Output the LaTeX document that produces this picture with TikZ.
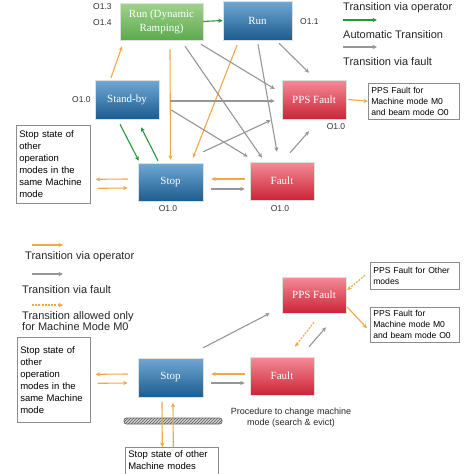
\documentclass[tikz,border=0pt]{standalone}
\usepackage{fontspec}
\setmainfont{Liberation Serif}
\setsansfont{Liberation Sans}
\usetikzlibrary{arrows.meta,calc,patterns}
\definecolor{bluetop}{RGB}{112,168,214}
\definecolor{bluebot}{RGB}{28,92,142}
\definecolor{greentop}{RGB}{160,210,140}
\definecolor{greenbot}{RGB}{92,170,78}
\definecolor{redtop}{RGB}{244,140,150}
\definecolor{redbot}{RGB}{204,36,56}
\definecolor{orangec}{RGB}{240,168,72}
\definecolor{grayc}{RGB}{150,150,150}
\definecolor{greenc}{RGB}{40,150,60}
\definecolor{notec}{RGB}{140,140,140}
\begin{document}
\begin{tikzpicture}[x=1pt,y=-1pt,
  box/.style={inner sep=0pt, text=white, font=\fontsize{11}{14}\selectfont, align=center, draw=white!75!gray, line width=0.5pt},
  bluebox/.style={box, top color=bluetop, bottom color=bluebot},
  greenbox/.style={box, top color=greentop, bottom color=greenbot},
  redbox/.style={box, top color=redtop, bottom color=redbot},
  note/.style={draw=notec, line width=0.6pt, align=left, anchor=north west, inner xsep=3pt, inner ysep=2pt, font=\sffamily\fontsize{9.5}{12}\selectfont},
  pnote/.style={draw=notec, line width=0.6pt, align=left, anchor=north west, inner xsep=3pt, inner ysep=2pt, font=\sffamily\fontsize{8.6}{11}\selectfont},
  olab/.style={font=\sffamily\fontsize{8.5}{10}\selectfont, text=black!80, inner sep=0pt},
  legtxt/.style={font=\sffamily\fontsize{11}{13}\selectfont, text=black!85, inner sep=0pt, anchor=west, align=left},
  arr/.style={line width=1.1pt, -{Stealth[length=4.5pt,width=4.2pt]}},
  oarr/.style={arr, draw=orangec, color=orangec},
  odarr/.style={arr, draw=orangec, color=orangec, dash pattern=on 2pt off 1.2pt},
  garr/.style={arr, draw=grayc, color=grayc},
  grarr/.style={arr, draw=greenc, color=greenc}
]
\useasboundingbox (0,0) rectangle (474,474);

% ---------------- TOP DIAGRAM ----------------
\node[greenbox, minimum width=83pt, minimum height=37pt] (rundr) at (161.5,21.5) {Run (Dynamic\\Ramping)};
\node[bluebox, minimum width=69pt, minimum height=39pt] (run) at (257.5,20.5) {Run};
\node[bluebox, minimum width=64pt, minimum height=39pt] (standby) at (127,99.5) {Stand-by};
\node[bluebox, minimum width=65pt, minimum height=38pt] (stopT) at (170.5,182) {Stop};
\node[redbox, minimum width=64pt, minimum height=39pt] (ppsT) at (314,99.5) {PPS Fault};
\node[redbox, minimum width=64pt, minimum height=38pt] (faultT) at (282,181) {Fault};

\node[note, minimum width=74pt, minimum height=78pt, text width=68pt] (noteT) at (16,125)
  {Stop state of\\other\\operation\\modes in the\\same Machine\\mode};
\node[pnote, minimum width=91pt, minimum height=36pt, text width=85pt] (ppsnoteT) at (368,83)
  {PPS Fault for\\Machine mode M0\\and beam mode O0};

\node[olab, anchor=west] (l13) at (93,7) {O1.3};
\node[olab, anchor=west] (l14) at (93,23) {O1.4};
\node[olab, anchor=west] (l11) at (300,22) {O1.1};
\node[olab, anchor=west] (l10a) at (72,100) {O1.0};
\node[olab] (l10b) at (168,209) {O1.0};
\node[olab] (l10c) at (336,127) {O1.0};
\node[olab] (l10d) at (280,209) {O1.0};

% legend top
\node[legtxt] (lt1) at (343,8) {Transition via operator};
\coordinate (lg1a) at (343,20); \coordinate (lg1b) at (377,20);
\draw[grarr] (lg1a) -- (lg1b);
\node[legtxt] (lt2) at (343,35) {Automatic Transition};
\coordinate (lg2a) at (343,47); \coordinate (lg2b) at (377,47);
\draw[garr] (lg2a) -- (lg2b);
\node[legtxt] (lt3) at (343,62) {Transition via fault};

% connectors top
\draw[grarr] (rundr.east) -- (run.west);
\draw[oarr] ($(standby.north)+(-16,-2)$) -- ($(rundr.south)+(-39.5,6)$);
\draw[oarr] ($(rundr.south)+(8.5,9)$) -- ($(stopT.north)+(0,-3)$);
\draw[oarr] ($(run.south)+(-20.5,5)$) -- ($(stopT.north)+(22.5,-5)$);
\draw[garr] ($(rundr.south)+(23.5,6)$) -- ($(faultT.north)+(-20,-4)$);
\draw[garr] ($(rundr.south)+(39.5,4)$) -- ($(ppsT.west)+(-7,-10.5)$);
\draw[garr] ($(run.south)+(0.5,4)$) -- ($(faultT.north)+(-5,-10)$);
\draw[garr] ($(run.south)+(21.5,3)$) -- ($(ppsT.north)+(-5,-7)$);
\draw[garr] ($(standby.east)+(11,1.5)$) -- ($(ppsT.west)+(-7,1.5)$);
\draw[garr] ($(standby.east)+(12,10.5)$) -- ($(faultT.north west)+(-2,-5)$);
\draw[garr] ($(stopT.north east)+(0,-11)$) -- ($(ppsT.south west)+(-11,1)$);
\draw[garr] ($(faultT.north)+(8,-9)$) -- ($(ppsT.south)+(-5,12)$);
\draw[grarr] ($(standby.south)+(-7,5)$) -- ($(stopT.north west)+(1,-2)$);
\draw[grarr] ($(stopT.north)+(-12.5,-2)$) -- ($(standby.south)+(14,8)$);
\draw[oarr] ($(stopT.west)+(-10,-3)$) -- ($(noteT.east)+(5,15)$);
\draw[oarr] ($(noteT.east)+(7,24)$) -- ($(stopT.west)+(-10,6)$);
\draw[oarr] ($(faultT.west)+(-5,-2)$) -- ($(stopT.east)+(8,-3)$);
\draw[garr] ($(stopT.east)+(8,7)$) -- ($(faultT.west)+(-5,8)$);
\draw[oarr] ($(ppsT.east)+(2,0)$) -- ($(ppsnoteT.west)+(0,0)$);

% ---------------- BOTTOM DIAGRAM ----------------
\coordinate (bl1a) at (32,245); \coordinate (bl1b) at (63,245);
\draw[oarr] (bl1a) -- (bl1b);
\node[legtxt] (bt1) at (25,257) {Transition via operator};
\coordinate (bl2a) at (32,274); \coordinate (bl2b) at (63,274);
\draw[garr] (bl2a) -- (bl2b);
\node[legtxt] (bt2) at (22,290) {Transition via fault};
\coordinate (bl3a) at (32,305); \coordinate (bl3b) at (63,305);
\draw[odarr] (bl3a) -- (bl3b);
\node[legtxt, anchor=north west, font=\sffamily\fontsize{11}{11.5}\selectfont] (bt3) at (22,311) {Transition allowed only\\for Machine Mode M0};

\node[bluebox, minimum width=65pt, minimum height=39pt] (stopB) at (170.5,377.5) {Stop};
\node[redbox, minimum width=64pt, minimum height=38pt] (faultB) at (282,376) {Fault};
\node[redbox, minimum width=64pt, minimum height=36pt] (ppsB) at (314,295) {PPS Fault};

\node[note, minimum width=73pt, minimum height=85pt, text width=67pt] (noteB) at (17,337)
  {Stop state of\\other\\operation\\modes in the\\same Machine\\mode};
\node[pnote, minimum width=89pt, minimum height=27pt, text width=83pt] (othersB) at (370,262)
  {PPS Fault for Other\\modes};
\node[pnote, minimum width=89pt, minimum height=35pt, text width=83pt] (m0B) at (370,307)
  {PPS Fault for\\Machine mode M0\\and beam mode O0};
\node[note, anchor=north west, minimum width=93pt, minimum height=36pt, text width=87pt, inner ysep=3pt] (smB) at (125,447)
  {Stop state of other\\Machine modes\\\strut};

\node[font=\sffamily\fontsize{9}{11}\selectfont, text=black!85, align=center, inner sep=0pt] (proc) at (291,418)
  {Procedure to change machine\\mode (search \& evict)};

\draw[line width=0.7pt, draw=gray!80!black, fill=gray!35, rounded corners=2.5pt] (124,418) rectangle (222,424);
\path[pattern=north east lines, pattern color=gray!70!black, rounded corners=2.5pt] (124,418) rectangle (222,424);

\draw[oarr] ($(stopB.west)+(-10,-3.5)$) -- ($(noteB.east)+(5,-5.5)$);
\draw[oarr] ($(noteB.east)+(7,3.5)$) -- ($(stopB.west)+(-10,5.5)$);
\draw[oarr] ($(faultB.west)+(-5,-2)$) -- ($(stopB.east)+(8,-3.5)$);
\draw[garr] ($(stopB.east)+(8,5.5)$) -- ($(faultB.west)+(-5,7)$);
\draw[garr] ($(stopB.north east)+(0,-10)$) -- ($(ppsB.south west)+(-12,0)$);
\draw[odarr] ($(othersB.west)+(-5,-0.5)$) -- ($(ppsB.east)+(1,-5)$);
\draw[oarr] ($(ppsB.east)+(1,12)$) -- ($(m0B.west)+(-3,3.5)$);
\draw[odarr] ($(ppsB.south)+(0,9)$) -- ($(faultB.north)+(13,-10)$);
\draw[garr] ($(faultB.north)+(27,-10)$) -- ($(ppsB.south)+(12,14)$);
\draw[oarr] ($(stopB.south)+(-8.5,4.5)$) -- ($(smB.north)+(-9.5,0)$);
\draw[oarr] ($(smB.north)+(1.5,0)$) -- ($(stopB.south)+(2.5,5.5)$);
\end{tikzpicture}
\end{document}
